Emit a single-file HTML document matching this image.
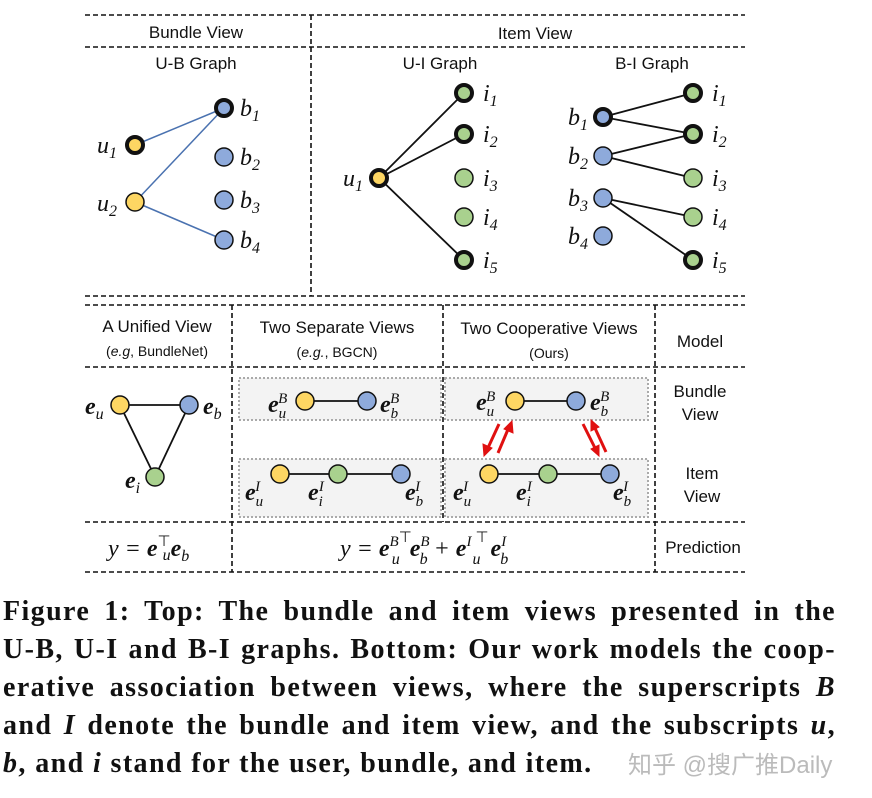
<!DOCTYPE html>
<html><head><meta charset="utf-8"><style>
body{margin:0;background:#fff;width:872px;height:798px;overflow:hidden;position:relative}
svg{position:absolute;left:0;top:0}
.t{font-family:"Liberation Sans",Arial,sans-serif;font-size:17px;fill:#111}
.m{font-family:"Liberation Serif",serif;font-style:italic;font-size:24px;fill:#111}
.mb{font-family:"Liberation Serif",serif;font-style:italic;font-weight:bold;font-size:24px;fill:#111}
.cap{position:absolute;left:3px;top:593px;width:833px;font-family:"Liberation Serif",serif;font-weight:bold;font-size:28px;letter-spacing:1.4px;line-height:38px;color:#111}
.cap div{text-align:justify;text-align-last:justify;white-space:nowrap}
.cap div.l{text-align-last:left}
.wm{position:absolute;left:628px;top:745px;font-family:"Liberation Sans","Noto Sans CJK SC",sans-serif;font-size:24px;color:#bbb}
</style></head><body>
<svg width="872" height="798" xmlns="http://www.w3.org/2000/svg">
<g stroke="#111" stroke-width="1.6" stroke-dasharray="5,3" fill="none">
<line x1="85" y1="15" x2="745" y2="15"/><line x1="85" y1="47" x2="745" y2="47"/><line x1="85" y1="296" x2="745" y2="296"/>
<line x1="311" y1="15" x2="311" y2="296"/>
<line x1="85" y1="305" x2="745" y2="305"/><line x1="85" y1="367" x2="745" y2="367"/><line x1="85" y1="522" x2="745" y2="522"/><line x1="85" y1="572" x2="745" y2="572"/>
<line x1="232" y1="305" x2="232" y2="572"/><line x1="443" y1="305" x2="443" y2="522"/><line x1="655" y1="305" x2="655" y2="572"/>
</g>
<g class="t" text-anchor="middle">
<text x="196" y="38">Bundle View</text><text x="535" y="39">Item View</text>
<text x="196" y="69">U-B Graph</text><text x="440" y="69">U-I Graph</text><text x="652" y="69">B-I Graph</text>
<text x="157" y="332">A Unified View</text><text x="157" y="356" font-size="14">(<tspan font-style="italic">e.g</tspan>, BundleNet)</text>
<text x="337" y="333">Two Separate Views</text><text x="337" y="357" font-size="14">(<tspan font-style="italic">e.g.</tspan>, BGCN)</text>
<text x="549" y="334">Two Cooperative Views</text><text x="549" y="358" font-size="14">(Ours)</text>
<text x="700" y="347">Model</text>
<text x="700" y="397">Bundle</text><text x="700" y="420">View</text>
<text x="702" y="479">Item</text><text x="702" y="502">View</text>
<text x="703" y="553">Prediction</text>
</g>
<g stroke="#4a72b0" stroke-width="1.5"><line x1="135" y1="145" x2="224" y2="108"/><line x1="135" y1="202" x2="224" y2="108"/><line x1="135" y1="202" x2="224" y2="240"/></g>
<g stroke="#111" stroke-width="1.8">
<line x1="379" y1="178" x2="464" y2="93"/><line x1="379" y1="178" x2="464" y2="134"/><line x1="379" y1="178" x2="464" y2="260"/>
<line x1="603" y1="117" x2="693" y2="93"/><line x1="603" y1="117" x2="693" y2="134"/><line x1="603" y1="156" x2="693" y2="134"/><line x1="603" y1="156" x2="693" y2="178"/><line x1="603" y1="198" x2="693" y2="217"/><line x1="603" y1="198" x2="693" y2="260"/>
<line x1="120" y1="405" x2="189" y2="405"/><line x1="120" y1="405" x2="155" y2="477"/><line x1="189" y1="405" x2="155" y2="477"/>
</g>
<g fill="#f3f3f3" stroke="#aaa" stroke-width="2" stroke-dasharray="2,2">
<rect x="239" y="378" width="202" height="42"/><rect x="445" y="378" width="203" height="42"/>
<rect x="239" y="459" width="202" height="58"/><rect x="445" y="459" width="203" height="58"/>
</g>
<g stroke="#111" stroke-width="1.8">
<line x1="305" y1="401" x2="367" y2="401"/><line x1="515" y1="401" x2="576" y2="401"/>
<line x1="280" y1="474" x2="401" y2="474"/><line x1="489" y1="474" x2="610" y2="474"/>
</g>
<g stroke="#111" stroke-width="1.5">
<g fill="#fdd663">
<circle cx="135" cy="145" r="8" stroke-width="4"/><circle cx="135" cy="202" r="9"/><circle cx="379" cy="178" r="8" stroke-width="4"/>
<circle cx="120" cy="405" r="9"/><circle cx="305" cy="401" r="9"/><circle cx="515" cy="401" r="9"/><circle cx="280" cy="474" r="9"/><circle cx="489" cy="474" r="9"/>
</g>
<g fill="#8eaadb">
<circle cx="224" cy="108" r="8" stroke-width="4"/><circle cx="224" cy="157" r="9"/><circle cx="224" cy="200" r="9"/><circle cx="224" cy="240" r="9"/>
<circle cx="603" cy="117" r="8" stroke-width="4"/><circle cx="603" cy="156" r="9"/><circle cx="603" cy="198" r="9"/><circle cx="603" cy="236" r="9"/>
<circle cx="189" cy="405" r="9"/><circle cx="367" cy="401" r="9"/><circle cx="576" cy="401" r="9"/><circle cx="401" cy="474" r="9"/><circle cx="610" cy="474" r="9"/>
</g>
<g fill="#a9d18e">
<circle cx="464" cy="93" r="8" stroke-width="4"/><circle cx="464" cy="134" r="8" stroke-width="4"/><circle cx="464" cy="178" r="9"/><circle cx="464" cy="217" r="9"/><circle cx="464" cy="260" r="8" stroke-width="4"/>
<circle cx="693" cy="93" r="8" stroke-width="4"/><circle cx="693" cy="134" r="8" stroke-width="4"/><circle cx="693" cy="178" r="9"/><circle cx="693" cy="217" r="9"/><circle cx="693" cy="260" r="8" stroke-width="4"/>
<circle cx="155" cy="477" r="9"/><circle cx="338" cy="474" r="9"/><circle cx="548" cy="474" r="9"/>
</g>
</g>
<g stroke="#e01010" stroke-width="3" fill="#e01010">
<line x1="499" y1="424" x2="487" y2="450"/><polygon points="484,456 483,444 492,448" stroke-width="1"/>
<line x1="498" y1="453" x2="509" y2="427"/><polygon points="512,421 513,433 504,429" stroke-width="1"/>
<line x1="583" y1="424" x2="596" y2="450"/><polygon points="599,456 591,449 599,445" stroke-width="1"/>
<line x1="606" y1="452" x2="594" y2="426"/><polygon points="591,420 599,427 591,431" stroke-width="1"/>
</g>
<g class="m">
<text x="97" y="153">u<tspan font-size="16" dy="5">1</tspan></text><text x="97" y="211">u<tspan font-size="16" dy="5">2</tspan></text>
<text x="240" y="116">b<tspan font-size="16" dy="5">1</tspan></text><text x="240" y="165">b<tspan font-size="16" dy="5">2</tspan></text><text x="240" y="208">b<tspan font-size="16" dy="5">3</tspan></text><text x="240" y="248">b<tspan font-size="16" dy="5">4</tspan></text>
<text x="343" y="186">u<tspan font-size="16" dy="5">1</tspan></text>
<text x="483" y="101">i<tspan font-size="16" dy="5">1</tspan></text><text x="483" y="142">i<tspan font-size="16" dy="5">2</tspan></text><text x="483" y="186">i<tspan font-size="16" dy="5">3</tspan></text><text x="483" y="225">i<tspan font-size="16" dy="5">4</tspan></text><text x="483" y="268">i<tspan font-size="16" dy="5">5</tspan></text>
<text x="712" y="101">i<tspan font-size="16" dy="5">1</tspan></text><text x="712" y="142">i<tspan font-size="16" dy="5">2</tspan></text><text x="712" y="186">i<tspan font-size="16" dy="5">3</tspan></text><text x="712" y="225">i<tspan font-size="16" dy="5">4</tspan></text><text x="712" y="268">i<tspan font-size="16" dy="5">5</tspan></text>
<text x="568" y="125">b<tspan font-size="16" dy="5">1</tspan></text><text x="568" y="164">b<tspan font-size="16" dy="5">2</tspan></text><text x="568" y="206">b<tspan font-size="16" dy="5">3</tspan></text><text x="568" y="244">b<tspan font-size="16" dy="5">4</tspan></text>
</g>
<g class="mb">
<text x="85" y="414">e<tspan font-size="16" font-weight="normal" dy="5">u</tspan></text>
<text x="203" y="414">e<tspan font-size="16" font-weight="normal" dy="5">b</tspan></text>
<text x="125" y="488">e<tspan font-size="16" font-weight="normal" dy="5">i</tspan></text>
<text x="268" y="412">e<tspan font-size="15" font-weight="normal" dy="6">u</tspan><tspan font-size="15" font-weight="normal" dx="-8" dy="-15">B</tspan></text>
<text x="380" y="412">e<tspan font-size="15" font-weight="normal" dy="6">b</tspan><tspan font-size="15" font-weight="normal" dx="-8" dy="-15">B</tspan></text>
<text x="476" y="410">e<tspan font-size="15" font-weight="normal" dy="6">u</tspan><tspan font-size="15" font-weight="normal" dx="-8" dy="-15">B</tspan></text>
<text x="590" y="410">e<tspan font-size="15" font-weight="normal" dy="6">b</tspan><tspan font-size="15" font-weight="normal" dx="-8" dy="-15">B</tspan></text>
<text x="245" y="500">e<tspan font-size="15" font-weight="normal" dy="6">u</tspan><tspan font-size="15" font-weight="normal" dx="-8" dy="-15">I</tspan></text>
<text x="308" y="500">e<tspan font-size="15" font-weight="normal" dy="6">i</tspan><tspan font-size="15" font-weight="normal" dx="-4" dy="-15">I</tspan></text>
<text x="405" y="500">e<tspan font-size="15" font-weight="normal" dy="6">b</tspan><tspan font-size="15" font-weight="normal" dx="-8" dy="-15">I</tspan></text>
<text x="453" y="500">e<tspan font-size="15" font-weight="normal" dy="6">u</tspan><tspan font-size="15" font-weight="normal" dx="-8" dy="-15">I</tspan></text>
<text x="516" y="500">e<tspan font-size="15" font-weight="normal" dy="6">i</tspan><tspan font-size="15" font-weight="normal" dx="-4" dy="-15">I</tspan></text>
<text x="613" y="500">e<tspan font-size="15" font-weight="normal" dy="6">b</tspan><tspan font-size="15" font-weight="normal" dx="-8" dy="-15">I</tspan></text>
</g>
<text class="m" x="108" y="556">y = <tspan font-weight="bold">e</tspan><tspan font-size="15" font-style="normal" dy="-10">⊤</tspan><tspan font-size="16" dx="-8" dy="14">u</tspan><tspan font-weight="bold" dy="-4">e</tspan><tspan font-size="16" dy="5">b</tspan></text>
<text class="m" x="340" y="556">y = <tspan font-weight="bold">e</tspan><tspan font-size="15" dy="-10">B</tspan><tspan font-size="15" font-style="normal" dy="-4">⊤</tspan><tspan font-size="16" dx="-20" dy="22">u</tspan><tspan font-weight="bold" dx="10" dy="-8">e</tspan><tspan font-size="15" dy="-10">B</tspan><tspan font-size="16" dx="-10" dy="18">b</tspan><tspan dx="6" dy="-8">+ </tspan><tspan font-weight="bold">e</tspan><tspan font-size="15" dy="-10">I</tspan><tspan font-size="15" font-style="normal" dx="4" dy="-4">⊤</tspan><tspan font-size="16" dx="-16" dy="22">u</tspan><tspan font-weight="bold" dx="10" dy="-8">e</tspan><tspan font-size="15" dy="-10">I</tspan><tspan font-size="16" dx="-6" dy="18">b</tspan></text>
</svg>
<div class="cap">
<div>Figure 1: Top: The bundle and item views presented in the</div>
<div>U-B, U-I and B-I graphs. Bottom: Our work models the coop-</div>
<div>erative association between views, where the superscripts <i>B</i></div>
<div>and <i>I</i> denote the bundle and item view, and the subscripts <i>u</i>,</div>
<div class="l"><i>b</i>, and <i>i</i> stand for the user, bundle, and item.</div>
</div>
<div class="wm">知乎 @搜广推Daily</div>
</body></html>
